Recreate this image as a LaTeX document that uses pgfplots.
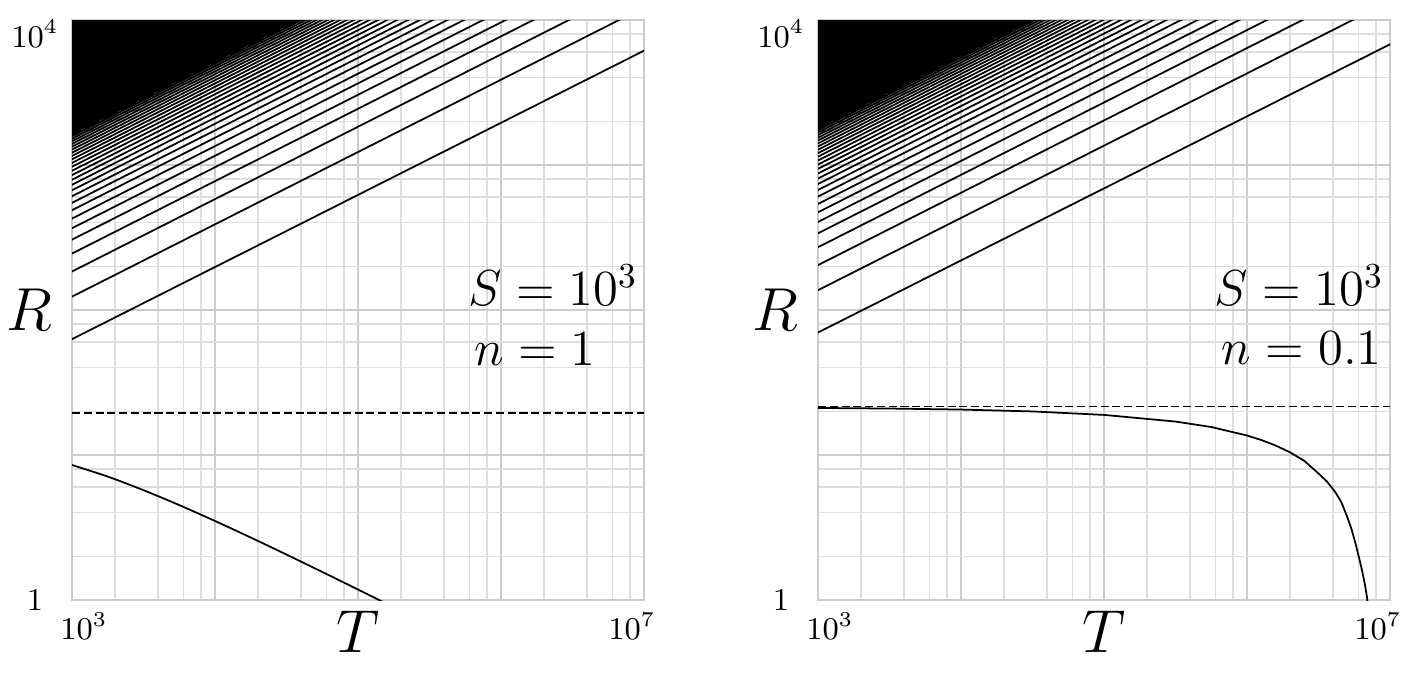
\documentclass[border=0pt]{standalone}
\usepackage{pgfplots}
\pgfplotsset{compat=1.18}
\tikzset{annot/.style={anchor=base west, inner sep=0pt, font=\Large}}

\begin{document}
\begin{tikzpicture}
\useasboundingbox (-0.72cm,-0.72cm) rectangle (13.43cm,6.0cm);

% ---------------- left panel: S = 10^3, n = 1 ----------------
\begin{loglogaxis}[
    at={(0cm,0cm)}, anchor=south west,
    scale only axis, width=5.72cm, height=5.80cm,
    xmin=1e3, xmax=1e7, ymin=1, ymax=1e4,
    xtick={1e3,1e4,1e5,1e6,1e7}, ytick={1,10,100,1000,10000},
    minor xtick={2e3,4e3,6e3,8e3,2e4,4e4,6e4,8e4,2e5,4e5,6e5,8e5,2e6,4e6,6e6,8e6},
    minor ytick={2,4,6,8,20,40,60,80,200,400,600,800,2000,4000,6000,8000},
    xticklabels={{\hspace*{0.24cm}$10^3$},{},{},{},{$10^7$\hspace*{0.24cm}}},
    yticklabels={{$1$},{},{},{},{\raisebox{0pt}[2\height][0pt]{$10^4$}}},
    xmajorgrids, ymajorgrids, xminorgrids, yminorgrids,
    major grid style={gray!40, line width=0.4pt},
    minor grid style={gray!26, line width=0.4pt},
    major tick length=0pt, minor tick length=0pt,
    axis line style={gray!40, line width=0.4pt},
    tick label style={font=\small},
    xticklabel style={anchor=north, inner sep=0pt, yshift=-0.12cm},
    yticklabel style={anchor=center, inner sep=0pt, xshift=-0.37cm},
    xlabel={$T$}, ylabel={$R$},
    xlabel style={at={(rel axis cs:0.5,0)}, anchor=north, inner sep=0pt, yshift=-0.1cm, font=\LARGE},
    ylabel style={at={(rel axis cs:0,0.5)}, rotate=-90, anchor=east, inner sep=0pt, xshift=-0.19cm, font=\LARGE},
  ]
  % family of lines R_k ~ sqrt(T), k = 1..164 (each line given by its two ends, beyond the axis range)
  \addplot[black, line width=0.5pt] table[row sep=\\] {
x y\\
1e1 6.37\\1e9 60730\\
1e9 121430\\1e1 12.44\\
1e1 18.51\\1e9 182130\\
1e9 242830\\1e1 24.58\\
1e1 30.65\\1e9 303530\\
1e9 364230\\1e1 36.72\\
1e1 42.79\\1e9 424930\\
1e9 485630\\1e1 48.86\\
1e1 54.93\\1e9 546330\\
1e9 607030\\1e1 61.00\\
1e1 67.07\\1e9 667730\\
1e9 728430\\1e1 73.14\\
1e1 79.21\\1e9 789130\\
1e9 849830\\1e1 85.28\\
1e1 91.35\\1e9 910530\\
1e9 971230\\1e1 97.42\\
1e1 103.49\\1e9 1031930\\
1e9 1092630\\1e1 109.56\\
1e1 115.63\\1e9 1153330\\
1e9 1214030\\1e1 121.70\\
1e1 127.77\\1e9 1274730\\
1e9 1335430\\1e1 133.84\\
1e1 139.91\\1e9 1396130\\
1e9 1456830\\1e1 145.98\\
1e1 152.05\\1e9 1517530\\
1e9 1578230\\1e1 158.12\\
1e1 164.19\\1e9 1638930\\
1e9 1699630\\1e1 170.26\\
1e1 176.33\\1e9 1760330\\
1e9 1821030\\1e1 182.40\\
1e1 188.47\\1e9 1881730\\
1e9 1942430\\1e1 194.54\\
1e1 200.61\\1e9 2003130\\
1e9 2063830\\1e1 206.68\\
1e1 212.75\\1e9 2124530\\
1e9 2185230\\1e1 218.82\\
1e1 224.89\\1e9 2245930\\
1e9 2306630\\1e1 230.96\\
1e1 237.03\\1e9 2367330\\
1e9 2428030\\1e1 243.10\\
1e1 249.17\\1e9 2488730\\
1e9 2549430\\1e1 255.24\\
1e1 261.31\\1e9 2610130\\
1e9 2670830\\1e1 267.38\\
1e1 273.45\\1e9 2731530\\
1e9 2792230\\1e1 279.52\\
1e1 285.59\\1e9 2852930\\
1e9 2913630\\1e1 291.66\\
1e1 297.73\\1e9 2974330\\
1e9 3035030\\1e1 303.80\\
1e1 309.87\\1e9 3095730\\
1e9 3156430\\1e1 315.94\\
1e1 322.01\\1e9 3217130\\
1e9 3277830\\1e1 328.08\\
1e1 334.15\\1e9 3338530\\
1e9 3399230\\1e1 340.22\\
1e1 346.29\\1e9 3459930\\
1e9 3520630\\1e1 352.36\\
1e1 358.43\\1e9 3581330\\
1e9 3642030\\1e1 364.50\\
1e1 370.57\\1e9 3702730\\
1e9 3763430\\1e1 376.64\\
1e1 382.71\\1e9 3824130\\
1e9 3884830\\1e1 388.78\\
1e1 394.85\\1e9 3945530\\
1e9 4006230\\1e1 400.92\\
1e1 406.99\\1e9 4066930\\
1e9 4127630\\1e1 413.06\\
1e1 419.13\\1e9 4188330\\
1e9 4249030\\1e1 425.20\\
1e1 431.27\\1e9 4309730\\
1e9 4370430\\1e1 437.34\\
1e1 443.41\\1e9 4431130\\
1e9 4491830\\1e1 449.48\\
1e1 455.55\\1e9 4552530\\
1e9 4613230\\1e1 461.62\\
1e1 467.69\\1e9 4673930\\
1e9 4734630\\1e1 473.76\\
1e1 479.83\\1e9 4795330\\
1e9 4856030\\1e1 485.90\\
1e1 491.97\\1e9 4916730\\
1e9 4977430\\1e1 498.04\\
1e1 504.11\\1e9 5038130\\
1e9 5098830\\1e1 510.18\\
1e1 516.25\\1e9 5159530\\
1e9 5220230\\1e1 522.32\\
1e1 528.39\\1e9 5280930\\
1e9 5341630\\1e1 534.46\\
1e1 540.53\\1e9 5402330\\
1e9 5463030\\1e1 546.60\\
1e1 552.67\\1e9 5523730\\
1e9 5584430\\1e1 558.74\\
1e1 564.81\\1e9 5645130\\
1e9 5705830\\1e1 570.88\\
1e1 576.95\\1e9 5766530\\
1e9 5827230\\1e1 583.02\\
1e1 589.09\\1e9 5887930\\
1e9 5948630\\1e1 595.16\\
1e1 601.23\\1e9 6009330\\
1e9 6070030\\1e1 607.30\\
1e1 613.37\\1e9 6130730\\
1e9 6191430\\1e1 619.44\\
1e1 625.51\\1e9 6252130\\
1e9 6312830\\1e1 631.58\\
1e1 637.65\\1e9 6373530\\
1e9 6434230\\1e1 643.72\\
1e1 649.79\\1e9 6494930\\
1e9 6555630\\1e1 655.86\\
1e1 661.93\\1e9 6616330\\
1e9 6677030\\1e1 668.00\\
1e1 674.07\\1e9 6737730\\
1e9 6798430\\1e1 680.14\\
1e1 686.21\\1e9 6859130\\
1e9 6919830\\1e1 692.28\\
1e1 698.35\\1e9 6980530\\
1e9 7041230\\1e1 704.42\\
1e1 710.49\\1e9 7101930\\
1e9 7162630\\1e1 716.56\\
1e1 722.63\\1e9 7223330\\
1e9 7284030\\1e1 728.70\\
1e1 734.77\\1e9 7344730\\
1e9 7405430\\1e1 740.84\\
1e1 746.91\\1e9 7466130\\
1e9 7526830\\1e1 752.98\\
1e1 759.05\\1e9 7587530\\
1e9 7648230\\1e1 765.12\\
1e1 771.19\\1e9 7708930\\
1e9 7769630\\1e1 777.26\\
1e1 783.33\\1e9 7830330\\
1e9 7891030\\1e1 789.40\\
1e1 795.47\\1e9 7951730\\
1e9 8012430\\1e1 801.54\\
1e1 807.61\\1e9 8073130\\
1e9 8133830\\1e1 813.68\\
1e1 819.75\\1e9 8194530\\
1e9 8255230\\1e1 825.82\\
1e1 831.89\\1e9 8315930\\
1e9 8376630\\1e1 837.96\\
1e1 844.03\\1e9 8437330\\
1e9 8498030\\1e1 850.10\\
1e1 856.17\\1e9 8558730\\
1e9 8619430\\1e1 862.24\\
1e1 868.31\\1e9 8680130\\
1e9 8740830\\1e1 874.38\\
1e1 880.45\\1e9 8801530\\
1e9 8862230\\1e1 886.52\\
1e1 892.59\\1e9 8922930\\
1e9 8983630\\1e1 898.66\\
1e1 904.73\\1e9 9044330\\
1e9 9105030\\1e1 910.80\\
1e1 916.87\\1e9 9165730\\
1e9 9226430\\1e1 922.94\\
1e1 929.01\\1e9 9287130\\
1e9 9347830\\1e1 935.08\\
1e1 941.15\\1e9 9408530\\
1e9 9469230\\1e1 947.22\\
1e1 953.29\\1e9 9529930\\
1e9 9590630\\1e1 959.36\\
1e1 965.43\\1e9 9651330\\
1e9 9712030\\1e1 971.50\\
1e1 977.57\\1e9 9772730\\
1e9 9833430\\1e1 983.64\\
1e1 989.71\\1e9 9894130\\
1e9 9954830\\1e1 995.78\\
  };
  \addplot[black, line width=0.5pt, dash pattern=on 2.3pt off 1.05pt] coordinates {(1e3,19.4) (1e7,19.4)};
  \addplot[black, line width=0.5pt, smooth] coordinates {
    (1000,8.53) (1778,7.10) (3162,5.72) (5623,4.515) (10000,3.508)
    (17783,2.697) (31623,2.058) (56234,1.562) (100000,1.181) (177828,0.891)
  };
  \node[annot] at (rel axis cs:0.692,0.507) {$S=10^3$};
  \node[annot] at (rel axis cs:0.703,0.405) {$n=1$};
\end{loglogaxis}

% ---------------- right panel: S = 10^3, n = 0.1 ----------------
\begin{loglogaxis}[
    at={(7.46cm,0cm)}, anchor=south west,
    scale only axis, width=5.72cm, height=5.80cm,
    xmin=1e3, xmax=1e7, ymin=1, ymax=1e4,
    xtick={1e3,1e4,1e5,1e6,1e7}, ytick={1,10,100,1000,10000},
    minor xtick={2e3,4e3,6e3,8e3,2e4,4e4,6e4,8e4,2e5,4e5,6e5,8e5,2e6,4e6,6e6,8e6},
    minor ytick={2,4,6,8,20,40,60,80,200,400,600,800,2000,4000,6000,8000},
    xticklabels={{\hspace*{0.24cm}$10^3$},{},{},{},{$10^7$\hspace*{0.24cm}}},
    yticklabels={{$1$},{},{},{},{\raisebox{0pt}[2\height][0pt]{$10^4$}}},
    xmajorgrids, ymajorgrids, xminorgrids, yminorgrids,
    major grid style={gray!40, line width=0.4pt},
    minor grid style={gray!26, line width=0.4pt},
    major tick length=0pt, minor tick length=0pt,
    axis line style={gray!40, line width=0.4pt},
    tick label style={font=\small},
    xticklabel style={anchor=north, inner sep=0pt, yshift=-0.12cm},
    yticklabel style={anchor=center, inner sep=0pt, xshift=-0.37cm},
    xlabel={$T$}, ylabel={$R$},
    xlabel style={at={(rel axis cs:0.5,0)}, anchor=north, inner sep=0pt, yshift=-0.1cm, font=\LARGE},
    ylabel style={at={(rel axis cs:0,0.5)}, rotate=-90, anchor=east, inner sep=0pt, xshift=-0.19cm, font=\LARGE},
  ]
  % family of lines R_k ~ sqrt(T), k = 1..149
  \addplot[black, line width=0.5pt] table[row sep=\\] {
x y\\
1e1 7.1\\1e9 67040\\
1e9 134040\\1e1 13.8\\
1e1 20.5\\1e9 201040\\
1e9 268040\\1e1 27.2\\
1e1 33.9\\1e9 335040\\
1e9 402040\\1e1 40.6\\
1e1 47.3\\1e9 469040\\
1e9 536040\\1e1 54.0\\
1e1 60.7\\1e9 603040\\
1e9 670040\\1e1 67.4\\
1e1 74.1\\1e9 737040\\
1e9 804040\\1e1 80.8\\
1e1 87.5\\1e9 871040\\
1e9 938040\\1e1 94.2\\
1e1 100.9\\1e9 1005040\\
1e9 1072040\\1e1 107.6\\
1e1 114.3\\1e9 1139040\\
1e9 1206040\\1e1 121.0\\
1e1 127.7\\1e9 1273040\\
1e9 1340040\\1e1 134.4\\
1e1 141.1\\1e9 1407040\\
1e9 1474040\\1e1 147.8\\
1e1 154.5\\1e9 1541040\\
1e9 1608040\\1e1 161.2\\
1e1 167.9\\1e9 1675040\\
1e9 1742040\\1e1 174.6\\
1e1 181.3\\1e9 1809040\\
1e9 1876040\\1e1 188.0\\
1e1 194.7\\1e9 1943040\\
1e9 2010040\\1e1 201.4\\
1e1 208.1\\1e9 2077040\\
1e9 2144040\\1e1 214.8\\
1e1 221.5\\1e9 2211040\\
1e9 2278040\\1e1 228.2\\
1e1 234.9\\1e9 2345040\\
1e9 2412040\\1e1 241.6\\
1e1 248.3\\1e9 2479040\\
1e9 2546040\\1e1 255.0\\
1e1 261.7\\1e9 2613040\\
1e9 2680040\\1e1 268.4\\
1e1 275.1\\1e9 2747040\\
1e9 2814040\\1e1 281.8\\
1e1 288.5\\1e9 2881040\\
1e9 2948040\\1e1 295.2\\
1e1 301.9\\1e9 3015040\\
1e9 3082040\\1e1 308.6\\
1e1 315.3\\1e9 3149040\\
1e9 3216040\\1e1 322.0\\
1e1 328.7\\1e9 3283040\\
1e9 3350040\\1e1 335.4\\
1e1 342.1\\1e9 3417040\\
1e9 3484040\\1e1 348.8\\
1e1 355.5\\1e9 3551040\\
1e9 3618040\\1e1 362.2\\
1e1 368.9\\1e9 3685040\\
1e9 3752040\\1e1 375.6\\
1e1 382.3\\1e9 3819040\\
1e9 3886040\\1e1 389.0\\
1e1 395.7\\1e9 3953040\\
1e9 4020040\\1e1 402.4\\
1e1 409.1\\1e9 4087040\\
1e9 4154040\\1e1 415.8\\
1e1 422.5\\1e9 4221040\\
1e9 4288040\\1e1 429.2\\
1e1 435.9\\1e9 4355040\\
1e9 4422040\\1e1 442.6\\
1e1 449.3\\1e9 4489040\\
1e9 4556040\\1e1 456.0\\
1e1 462.7\\1e9 4623040\\
1e9 4690040\\1e1 469.4\\
1e1 476.1\\1e9 4757040\\
1e9 4824040\\1e1 482.8\\
1e1 489.5\\1e9 4891040\\
1e9 4958040\\1e1 496.2\\
1e1 502.9\\1e9 5025040\\
1e9 5092040\\1e1 509.6\\
1e1 516.3\\1e9 5159040\\
1e9 5226040\\1e1 523.0\\
1e1 529.7\\1e9 5293040\\
1e9 5360040\\1e1 536.4\\
1e1 543.1\\1e9 5427040\\
1e9 5494040\\1e1 549.8\\
1e1 556.5\\1e9 5561040\\
1e9 5628040\\1e1 563.2\\
1e1 569.9\\1e9 5695040\\
1e9 5762040\\1e1 576.6\\
1e1 583.3\\1e9 5829040\\
1e9 5896040\\1e1 590.0\\
1e1 596.7\\1e9 5963040\\
1e9 6030040\\1e1 603.4\\
1e1 610.1\\1e9 6097040\\
1e9 6164040\\1e1 616.8\\
1e1 623.5\\1e9 6231040\\
1e9 6298040\\1e1 630.2\\
1e1 636.9\\1e9 6365040\\
1e9 6432040\\1e1 643.6\\
1e1 650.3\\1e9 6499040\\
1e9 6566040\\1e1 657.0\\
1e1 663.7\\1e9 6633040\\
1e9 6700040\\1e1 670.4\\
1e1 677.1\\1e9 6767040\\
1e9 6834040\\1e1 683.8\\
1e1 690.5\\1e9 6901040\\
1e9 6968040\\1e1 697.2\\
1e1 703.9\\1e9 7035040\\
1e9 7102040\\1e1 710.6\\
1e1 717.3\\1e9 7169040\\
1e9 7236040\\1e1 724.0\\
1e1 730.7\\1e9 7303040\\
1e9 7370040\\1e1 737.4\\
1e1 744.1\\1e9 7437040\\
1e9 7504040\\1e1 750.8\\
1e1 757.5\\1e9 7571040\\
1e9 7638040\\1e1 764.2\\
1e1 770.9\\1e9 7705040\\
1e9 7772040\\1e1 777.6\\
1e1 784.3\\1e9 7839040\\
1e9 7906040\\1e1 791.0\\
1e1 797.7\\1e9 7973040\\
1e9 8040040\\1e1 804.4\\
1e1 811.1\\1e9 8107040\\
1e9 8174040\\1e1 817.8\\
1e1 824.5\\1e9 8241040\\
1e9 8308040\\1e1 831.2\\
1e1 837.9\\1e9 8375040\\
1e9 8442040\\1e1 844.6\\
1e1 851.3\\1e9 8509040\\
1e9 8576040\\1e1 858.0\\
1e1 864.7\\1e9 8643040\\
1e9 8710040\\1e1 871.4\\
1e1 878.1\\1e9 8777040\\
1e9 8844040\\1e1 884.8\\
1e1 891.5\\1e9 8911040\\
1e9 8978040\\1e1 898.2\\
1e1 904.9\\1e9 9045040\\
1e9 9112040\\1e1 911.6\\
1e1 918.3\\1e9 9179040\\
1e9 9246040\\1e1 925.0\\
1e1 931.7\\1e9 9313040\\
1e9 9380040\\1e1 938.4\\
1e1 945.1\\1e9 9447040\\
1e9 9514040\\1e1 951.8\\
1e1 958.5\\1e9 9581040\\
1e9 9648040\\1e1 965.2\\
1e1 971.9\\1e9 9715040\\
1e9 9782040\\1e1 978.6\\
1e1 985.3\\1e9 9849040\\
1e9 9916040\\1e1 992.0\\
1e1 998.7\\1e9 9983040\\
  };
  \addplot[black, line width=0.5pt, dash pattern=on 2.3pt off 1.05pt] coordinates {(1e3,21.6) (1e7,21.6)};
  \addplot[black, line width=0.5pt] coordinates {
    (1000,21.11) (3162,20.92) (10000,20.58) (31623,19.98) (100000,18.91)
    (316228,17.01) (562341,15.6) (1000000,13.63) (1258925,12.69)
    (1584893,11.63) (1995262,10.45) (2511886,9.12) (3162278,7.46)
    (3630781,6.55) (4168694,5.50) (4570882,4.72) (5011872,3.76)
    (5370318,3.10) (5754399,2.43) (6025596,2.02) (6309573,1.67)
    (6606934,1.35) (6760830,1.19) (6918310,1.03) (7079458,0.81)
  };
  \node[annot] at (rel axis cs:0.692,0.508) {$S=10^3$};
  \node[annot] at (rel axis cs:0.705,0.406) {$n=0.1$};
\end{loglogaxis}
\end{tikzpicture}
\end{document}
